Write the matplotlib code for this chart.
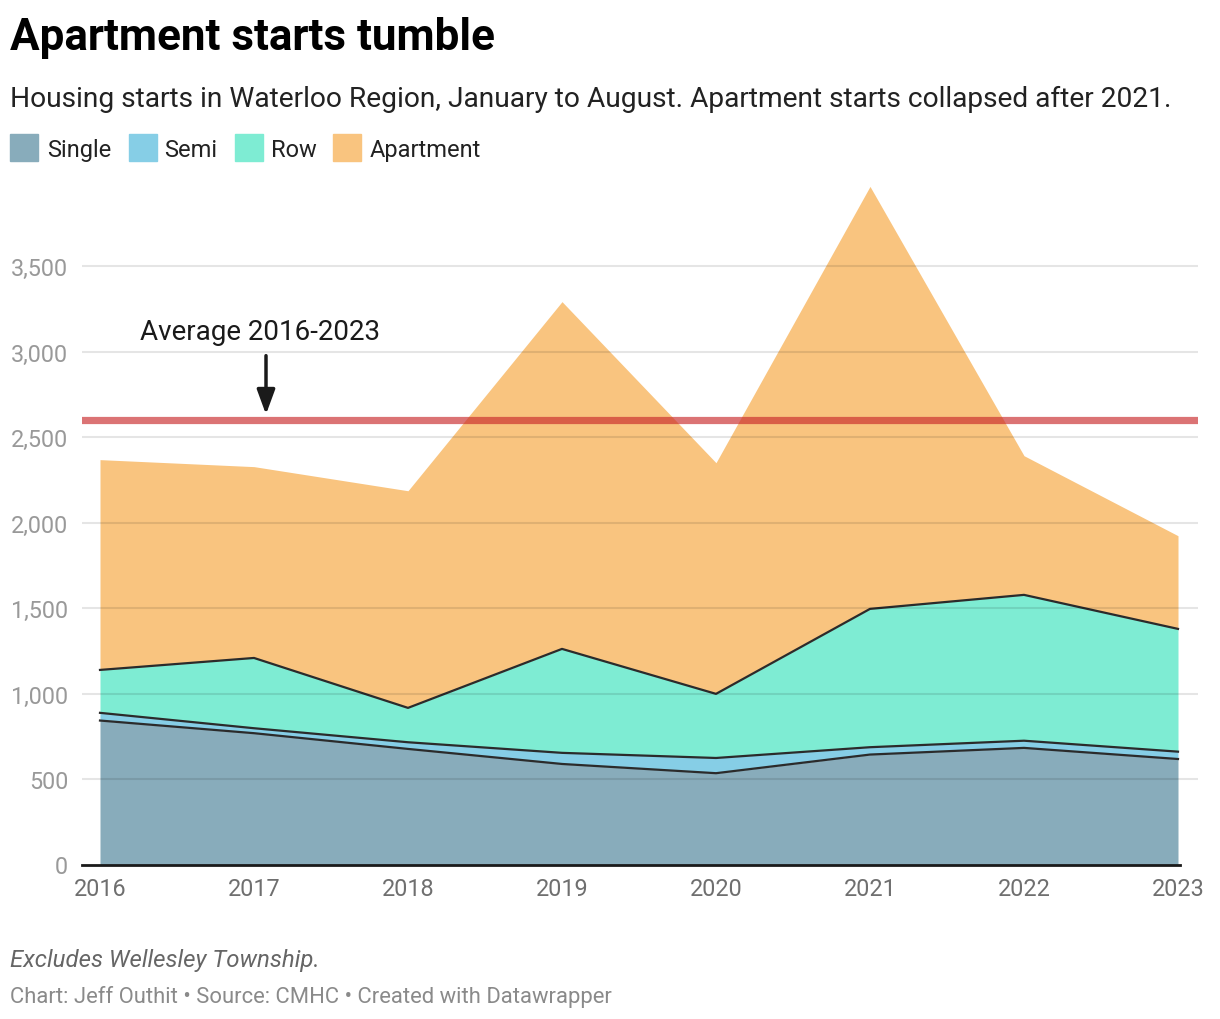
import matplotlib.pyplot as plt
from matplotlib.patches import Rectangle
import numpy as np

plt.rcParams['font.family'] = ['Roboto', 'DejaVu Sans']

# data (housing starts, Jan-Aug)
years = [2016, 2017, 2018, 2019, 2020, 2021, 2022, 2023]
single = [842, 768, 676, 588, 534, 643, 682, 617]
semi = [45, 29, 39, 65, 89, 43, 42, 43]
row = [251, 411, 201, 608, 375, 809, 853, 718]
apartment = [1230, 1119, 1270, 2031, 1352, 2471, 814, 545]

series_names = ['Single', 'Semi', 'Row', 'Apartment']
series_colors = ['#88acbb', '#86cee6', '#7eecd3', '#f9c47f']
y_ticks = [0, 500, 1000, 1500, 2000, 2500, 3000, 3500]

W, H = 1220, 1020
fig = plt.figure(figsize=(W / 100, H / 100), dpi=100)


def fx(px):
    return px / W


def fy(py):
    return 1 - py / H


# axes placed so that gridlines run 82 -> 1198 px, baseline at 865 px
ax = fig.add_axes([fx(82), fy(865.5), fx(1198) - fx(82), fy(181.6) - fy(865.5)])
ax.set_xlim(2016 - 18 / 154, 2023 + 20 / 154)
ax.set_ylim(0, 4000)

stack = np.vstack([single, semi, row, apartment])
cum = np.cumsum(stack, axis=0)
totals = cum[-1]
average = totals.mean()

# average reference line (under the areas)
ax.axhline(average, color='#c8282a', lw=5.2, alpha=0.65, zorder=3)

lower = np.zeros(len(years))
for i, (name, col) in enumerate(zip(series_names, series_colors)):
    upper = cum[i]
    ax.fill_between(years, lower, upper, color=col, lw=0, zorder=2)
    if name != 'Apartment':
        ax.plot(years, upper, color='#2b2b2b', lw=1.6, zorder=4)
    lower = upper

# gridlines over the fills, slightly transparent
for t in y_ticks[1:]:
    ax.axhline(t, color='black', alpha=0.1, lw=1.5, zorder=5)
ax.plot([2016 - 18 / 154, 2023 + 2 / 154], [0, 0], color='#1a1a1a', lw=2, zorder=6,
        clip_on=False)

ax.set_xticks(years)
ax.set_xticklabels([str(y) for y in years])
ax.set_yticks(y_ticks)
ax.set_yticklabels([f'{t:,}' for t in y_ticks])
ax.tick_params(axis='both', length=0, labelsize=16.8, labelcolor='#999999')
ax.tick_params(axis='y', pad=10)
ax.tick_params(axis='x', pad=9, labelcolor='#6f6f6f')
for s in ax.spines.values():
    s.set_visible(False)

ax.annotate('', xy=(2016 + 166 / 154, average + 32), xytext=(2016 + 166 / 154, 2976),
            arrowprops=dict(arrowstyle='-|>,head_width=0.55,head_length=1.5',
                            color='#1a1a1a', lw=2.5, shrinkA=0, shrinkB=0),
            zorder=7)
ax.text(2016 + 160 / 154, 3076, 'Average 2016-2023', fontsize=20, color='#1a1a1a',
        ha='center', va='baseline', zorder=7)

# header
fig.text(fx(10), fy(50), 'Apartment starts tumble', fontsize=31.7, fontweight='bold',
         color='#000000', va='baseline')
fig.text(fx(10), fy(107), 'Housing starts in Waterloo Region, January to August. '
         'Apartment starts collapsed after 2021.', fontsize=20.25, color='#222222',
         va='baseline')

# legend
sq_x = [10, 129, 235, 333]
lab_x = [47, 164, 271, 370]
for name, col, sx, lx in zip(series_names, series_colors, sq_x, lab_x):
    fig.patches.append(Rectangle((fx(sx), fy(162)), fx(28), 27 / H, color=col,
                                 transform=fig.transFigure, figure=fig))
    fig.text(fx(lx), fy(157), name, fontsize=17, color='#222222', va='baseline')

# footer
fig.text(fx(10), fy(967), 'Excludes Wellesley Township.', fontsize=17.3, style='italic',
         color='#666666', va='baseline')
fig.text(fx(10), fy(1003), 'Chart: Jeff Outhit \u2022 Source: CMHC \u2022 Created with Datawrapper',
         fontsize=15.8, color='#8a8a8a', va='baseline')

fig.savefig('out.png', dpi=100, facecolor='white')
